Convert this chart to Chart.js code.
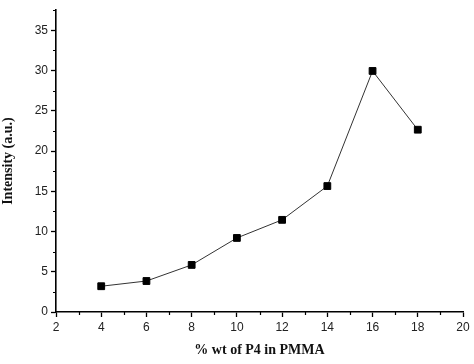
<!DOCTYPE html>
<html>
<head>
<meta charset="utf-8">
<script src="https://cdn.jsdelivr.net/npm/chart.js@4/dist/chart.umd.min.js"></script>
<style>
html,body{margin:0;padding:0;background:#fff;}
#wrap{width:474px;height:364px;}
</style>
</head>
<body>
<div id="wrap"><canvas id="c" width="474" height="364"></canvas></div>
<script>
const xValues = [4, 6, 8, 10, 12, 14, 16, 18];
const intensity = [3.2, 3.85, 5.85, 9.2, 11.45, 15.65, 29.95, 22.65];
const xTicks = [2, 4, 6, 8, 10, 12, 14, 16, 18, 20];
const yTicks = [0, 5, 10, 15, 20, 25, 30, 35];
const xMinor = [3, 5, 7, 9, 11, 13, 15, 17, 19];
const yMinor = [2.5, 7.5, 12.5, 17.5, 22.5, 27.5, 32.5, 37.5];
const xTitle = '% wt of P4 in PMMA';
const yTitle = 'Intensity (a.u.)';

const minorTicks = {
  id: 'minorTicks',
  afterDraw(chart) {
    const ctx = chart.ctx;
    const xs = chart.scales.x, ys = chart.scales.y;
    const ca = chart.chartArea;
    ctx.save();
    ctx.strokeStyle = '#000';
    ctx.lineWidth = 1.2;
    ctx.beginPath();
    xMinor.forEach(v => {
      const px = Math.round(xs.getPixelForValue(v)) + 0.5;
      ctx.moveTo(px, ca.bottom);
      ctx.lineTo(px, ca.bottom + 3);
    });
    yMinor.forEach(v => {
      const py = Math.round(ys.getPixelForValue(v)) + 0.5;
      ctx.moveTo(ca.left, py);
      ctx.lineTo(ca.left - 3, py);
    });
    ctx.stroke();
    ctx.restore();
  }
};

new Chart(document.getElementById('c'), {
  type: 'line',
  data: {
    datasets: [{
      data: xValues.map((x, i) => ({x: x, y: intensity[i]})),
      borderColor: '#333',
      borderWidth: 1,
      pointStyle: 'rect',
      pointRadius: 4.8,
      pointBorderWidth: 1,
      pointBackgroundColor: '#000',
      pointBorderColor: '#000',
      tension: 0,
      fill: false
    }]
  },
  options: {
    responsive: false,
    animation: false,
    devicePixelRatio: 1,
    layout: {padding: {top: 10, right: 11, left: 0, bottom: 0}},
    plugins: {legend: {display: false}, tooltip: {enabled: false}},
    scales: {
      x: {
        type: 'linear',
        min: 2, max: 20,
        afterBuildTicks: s => { s.ticks = xTicks.map(v => ({value: v})); },
        afterFit: s => { s.height = 52; },
        grid: {drawOnChartArea: false, drawTicks: true, tickLength: 5, tickWidth: 1.3, tickColor: '#000'},
        border: {display: true, color: '#000', width: 1.6},
        ticks: {padding: 3, color: '#222', font: {family: 'Liberation Sans', size: 12}, maxRotation: 0, autoSkip: false},
        title: {display: true, text: xTitle, color: '#111', font: {family: 'Liberation Serif', size: 14, weight: 'bold'}, padding: {top: 0, bottom: 5}}
      },
      y: {
        type: 'linear',
        min: 0, max: 37.5,
        afterBuildTicks: s => { s.ticks = yTicks.map(v => ({value: v})); },
        afterFit: s => { s.width = 56; },
        grid: {drawOnChartArea: false, drawTicks: true, tickLength: 5, tickWidth: 1.3, tickColor: '#000'},
        border: {display: true, color: '#000', width: 1.6},
        ticks: {padding: 3, color: '#222', font: {family: 'Liberation Sans', size: 12}, autoSkip: false},
        title: {display: true, text: yTitle, color: '#111', font: {family: 'Liberation Serif', size: 14, weight: 'bold'}, padding: {top: 0, bottom: 0}}
      }
    }
  },
  plugins: [minorTicks]
});
</script>
</body>
</html>
